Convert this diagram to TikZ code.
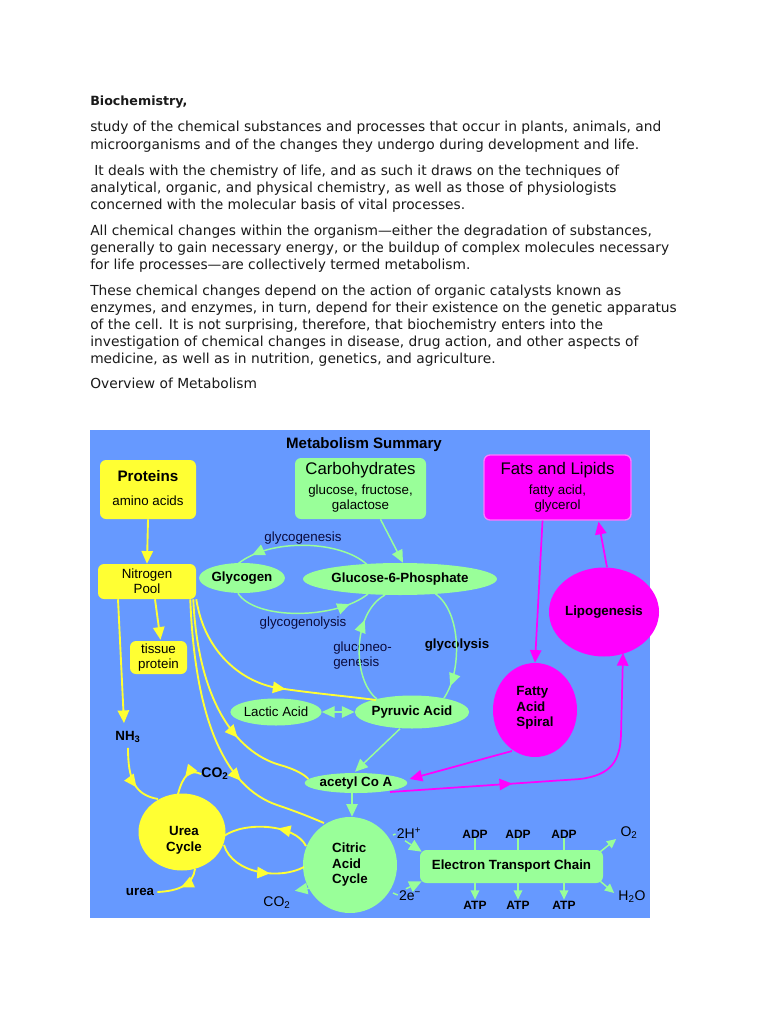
\documentclass[tikz,border=0pt]{standalone}
\usepackage{fontspec}
\setmainfont{DejaVu Sans}
\newfontfamily\arial{Liberation Sans}
\usetikzlibrary{arrows.meta,shapes.geometric,calc,decorations.markings}
\definecolor{bgblue}{HTML}{6699FF}
\definecolor{yel}{HTML}{FFFF33}
\definecolor{lgr}{HTML}{99FF99}
\definecolor{mag}{HTML}{FF00FF}
\definecolor{lmag}{HTML}{FF77FF}
\definecolor{navy}{HTML}{0A0A3C}
\definecolor{bodytxt}{HTML}{1A1A1A}
\tikzset{
  Tri/.tip={Triangle[length=9.5pt,width=8.5pt]},
  STri/.tip={Triangle[length=7pt,width=6.5pt]},
  body/.style={anchor=base west, inner sep=0pt, text=bodytxt, font=\fontsize{10.35}{12}\selectfont},
  lbl/.style={inner sep=0pt, text=navy, font=\arial\fontsize{10}{11.25}\selectfont, align=center},
  blbl/.style={inner sep=0pt, text=black, font=\arial\bfseries\fontsize{10}{11.6}\selectfont, align=center},
  ybox/.style={fill=yel, rounded corners=4.5pt, inner sep=0pt, align=center, font=\arial\fontsize{10}{11.25}\selectfont},
  gell/.style={ellipse, fill=lgr, inner sep=0pt},
  yline/.style={draw=yel, line width=1.4pt},
  gline/.style={draw=lgr, line width=1.1pt},
  mline/.style={draw=mag, line width=1.3pt},
  tipend/.style={-{Tri}},
  midarr/.style={postaction={decorate}, decoration={markings, mark=at position #1 with {\arrow{Tri}}}},
}
\begin{document}
\begin{tikzpicture}[x=0.75pt,y=-0.75pt]
\useasboundingbox (0,0) rectangle (768,1024);
\fill[white] (0,0) rectangle (768,1024);

% ---------- body text ----------
\node[body, font=\bfseries\fontsize{9.5}{12}\selectfont] (t0) at (90,105) {Biochemistry,};
\node[body] (t1) at (90,132) {study of the chemical substances and processes that occur in plants, animals, and};
\node[body] (t2) at (90,149) {microorganisms and of the changes they undergo during development and life.};
\node[body] (t3) at (94,175) {It deals with the chemistry of life, and as such it draws on the techniques of};
\node[body] (t4) at (90,192) {analytical, organic, and physical chemistry, as well as those of physiologists};
\node[body] (t5) at (90,209) {concerned with the molecular basis of vital processes.};
\node[body] (t6) at (90,235) {All chemical changes within the organism—either the degradation of substances,};
\node[body] (t7) at (90,252) {generally to gain necessary energy, or the buildup of complex molecules necessary};
\node[body] (t8) at (90,269) {for life processes—are collectively termed metabolism.};
\node[body] (t9) at (90,295) {These chemical changes depend on the action of organic catalysts known as};
\node[body] (t10) at (90,312) {enzymes, and enzymes, in turn, depend for their existence on the genetic apparatus};
\node[body] (t11) at (90,329) {of the cell. It is not surprising, therefore, that biochemistry enters into the};
\node[body] (t12) at (90,346) {investigation of chemical changes in disease, drug action, and other aspects of};
\node[body] (t13) at (90,363) {medicine, as well as in nutrition, genetics, and agriculture.};
\node[body] (t14) at (90,388) {Overview of Metabolism};

% ---------- diagram background ----------
\fill[bgblue] (90,430) rectangle (650,918);
\node[blbl, font=\arial\bfseries\fontsize{11.3}{13}\selectfont] (title) at (364,445) {Metabolism Summary};

% boxes
\node[ybox, minimum width=96*0.75pt, minimum height=59*0.75pt] (prot) at (148,489.5) {};
\node[blbl, font=\arial\bfseries\fontsize{11.4}{13}\selectfont] (protT) at (148,476) {Proteins};
\node[lbl, text=black] (protS) at (148,501) {amino acids};

\node[ybox, minimum width=98*0.75pt, minimum height=35*0.75pt] (npool) at (147,581.5) {Nitrogen\\Pool};
\node[ybox, minimum width=57*0.75pt, minimum height=33*0.75pt] (tissue) at (158.5,657.5) {tissue\\protein};

\node[ybox, fill=lgr, minimum width=131*0.75pt, minimum height=61*0.75pt] (carb) at (360.5,488.5) {};
\node[lbl, text=black, font=\arial\fontsize{12.6}{14}\selectfont] (carbT) at (360.5,470) {Carbohydrates};
\node[lbl, text=black] (carbS) at (360.5,498.5) {glucose, fructose,\\galactose};

\node[ybox, fill=mag, draw=lmag, line width=1pt, minimum width=147*0.75pt, minimum height=65*0.75pt] (fats) at (557.5,487.5) {};
\node[lbl, text=black, font=\arial\fontsize{12.6}{14}\selectfont] (fatsT) at (557.5,470) {Fats and Lipids};
\node[lbl, text=black] (fatsS) at (557.5,498.5) {fatty acid,\\glycerol};

% ellipses and circles
\node[gell, minimum width=70*0.75pt, minimum height=30*0.75pt, blbl] (glycogen) at (242,578) {Glycogen};
\node[gell, minimum width=148*0.75pt, minimum height=32*0.75pt, blbl] (g6p) at (400,579) {Glucose-6-Phosphate};
\node[gell, minimum width=110*0.75pt, minimum height=33*0.75pt, blbl] (pyr) at (412,712) {Pyruvic Acid};
\node[gell, minimum width=81*0.75pt, minimum height=27*0.75pt, lbl, text=black] (lactic) at (276,712) {Lactic Acid};
\node[gell, minimum width=92*0.75pt, minimum height=20*0.75pt, blbl] (acetyl) at (356,783) {acetyl Co A};
\node[gell, minimum width=94*0.75pt, minimum height=96*0.75pt] (citric) at (350,865) {};
\node[blbl, align=left, font=\arial\bfseries\fontsize{10}{11.6}\selectfont] (citricT) at (350,865) {Citric\\Acid\\Cycle};
\node[ellipse, fill=yel, inner sep=0pt, minimum width=87*0.75pt, minimum height=77*0.75pt] (urea) at (182,832) {};
\node[blbl] (ureaT) at (184,840.5) {Urea\\Cycle};
\node[ellipse, fill=mag, inner sep=0pt, minimum width=84*0.75pt, minimum height=94*0.75pt] (spiral) at (535,710) {};
\node[blbl, align=left] (spiralT) at (535,708) {Fatty\\Acid\\Spiral};
\node[ellipse, fill=mag, inner sep=0pt, minimum width=89*0.75pt, minimum height=89*0.75pt, blbl] (lipo) at (604,612) {Lipogenesis};
\node[ybox, fill=lgr, rounded corners=5pt, minimum width=183*0.75pt, minimum height=33*0.75pt, blbl] (etc) at (511.5,866.5) {Electron Transport Chain};

% labels
\node[lbl] (lgenesis) at (303,538) {glycogenesis};
\node[lbl] (llysis) at (303,623) {glycogenolysis};
\node[lbl, anchor=west, align=left] (lgluco) at (333,655.5) {gluconeo-\\genesis};
\node[blbl] (lglycol) at (457,645) {glycolysis};
\node[blbl] (nh3) at (128,737) {NH\textsubscript{3}};
\node[blbl, font=\arial\bfseries\fontsize{10.5}{12}\selectfont] (co2a) at (215,774) {CO\textsubscript{2}};
\node[blbl] (urealbl) at (140,892) {urea};
\node[blbl, font=\arial\fontsize{10.5}{12}\selectfont] (co2b) at (277,903) {CO\textsubscript{2}};
\node[lbl, text=black, font=\arial\fontsize{10.5}{12}\selectfont] (h2) at (409,833) {2H\textsuperscript{+}};
\node[lbl, text=black, font=\arial\fontsize{10.5}{12}\selectfont] (e2) at (410,896) {2e\textsuperscript{\char"2212}};
\foreach \i/\x in {1/475,2/518,3/564}{
  \node[blbl, font=\arial\bfseries\fontsize{9}{10}\selectfont] (adp\i) at (\x,834) {ADP};
  \node[blbl, font=\arial\bfseries\fontsize{9}{10}\selectfont] (atp\i) at (\x,905) {ATP};
}
\node[lbl, text=black, font=\arial\fontsize{10.5}{12}\selectfont] (o2) at (629,833) {O\textsubscript{2}};
\node[lbl, text=black, font=\arial\fontsize{10.5}{12}\selectfont] (h2o) at (632,897) {H\textsubscript{2}O};

% ---------- yellow connectors ----------
\draw[yline, tipend] (prot.south) -- (npool.north);
\draw[yline, tipend] ($(npool.south)+(8,0)$) -- ($(tissue.north)+(2,-1)$);
\draw[yline, tipend] ($(npool.south)+(-29,0)$) -- ($(nh3.north)+(-4,-8)$);
\draw[yline, midarr=0.6] (npool.south east) .. controls (205,655) and (245,683) .. (278,688)
   .. controls (310,693) and (345,696) .. ($(pyr.center)+(-36,-12)$);
\draw[yline, midarr=0.64] ($(npool.south east)+(-3,0)$) .. controls (198,700) and (235,752) .. (280,765)
   .. controls (295,769) and (305,775) .. ($(acetyl.west)+(4,-4)$);
\draw[yline, midarr=0.67] ($(npool.south east)+(-6,0)$) .. controls (195,720) and (225,787) .. (277,805)
   .. controls (295,811) and (310,817) .. ($(citric.center)+(-26,-42)$);
\draw[yline, midarr=0.62] ($(nh3.south)+(0,5)$) .. controls (128,780) and (135,795) .. ($(urea.center)+(-24,-33)$);
\draw[yline, midarr=0.5] (co2a.west) .. controls (190,769) and (183,775) .. ($(urea.center)+(-4,-38)$);
\draw[yline, midarr=0.5] ($(urea.center)+(13,37)$) .. controls (193,884) and (180,891) .. ($(urealbl.east)+(3,0)$);
\draw[yline, midarr=0.38] ($(citric.center)+(-44,-19)$) .. controls (295,824) and (245,821) .. ($(urea.center)+(42,4)$);
\draw[yline, midarr=0.62] ($(urea.center)+(42,13)$) .. controls (233,874) and (280,880) .. ($(citric.center)+(-46,2)$);

% ---------- green connectors ----------
\draw[gline, tipend] ($(carb.south)+(20,0)$) -- ($(g6p.north)+(3,0)$);
\draw[gline, midarr=0.88] ($(g6p.center)+(-33,-14.5)$) .. controls (340,540) and (270,538) .. ($(glycogen.north)+(-4,1)$);
\draw[gline, midarr=0.85] ($(glycogen.south)+(-4,0)$) .. controls (255,620) and (335,620) .. ($(g6p.center)+(-32,15)$);
\draw[gline, midarr=0.72] ($(pyr.center)+(-35,-13)$) .. controls (352,680) and (352,613) .. ($(g6p.center)+(-15,16)$);
\draw[gline, midarr=0.88] ($(g6p.center)+(35,14.5)$) .. controls (462,612) and (462,672) .. ($(pyr.center)+(32,-14)$);
\draw[gline, {Tri}-{Tri}] (lactic.east) -- (pyr.west);
\draw[gline, tipend] ($(pyr.south)+(-12,0)$) -- ($(acetyl.north)+(-1,-1)$);
\draw[gline, tipend] ($(acetyl.south)+(-4,0)$) -- ($(citric.north)+(2,0)$);
\draw[gline, tipend] ($(citric.center)+(-40,23)$) -- ($(co2b.north east)+(4,-6)$);
\draw[gline] ($(citric.center)+(43,-30)$) -- ($(h2.west)+(-1,1)$);
\draw[gline, tipend] ($(h2.south)+(-4,2)$) -- ($(etc.north west)+(2,2)$);
\draw[gline] ($(citric.center)+(43,28)$) -- ($(e2.west)+(-1,-1)$);
\draw[gline, tipend] ($(e2.north)+(-4,-2)$) -- ($(etc.south west)+(2,-2)$);
\foreach \i in {1,2,3}{
  \draw[gline] (adp\i.south) -- (adp\i.south |- etc.north);
  \draw[gline, -{STri}] (atp\i.north |- etc.south) -- ($(atp\i.north)+(0,-1)$);
}
\draw[gline, -{STri}] ($(etc.north east)+(-3,2)$) -- ($(o2.west)+(-4,6)$);
\draw[gline, -{STri}] ($(etc.south east)+(-3,-2)$) -- ($(h2o.west)+(-4,-4)$);

% ---------- magenta connectors ----------
\draw[mline, tipend] ($(fats.south)+(-15,0)$) -- (spiral.north);
\draw[mline, tipend] ($(lipo.north)+(3,0)$) -- ($(fats.south)+(41,1)$);
\draw[mline, tipend] ($(spiral.center)+(-23,41)$) -- ($(acetyl.east)+(2,-4)$);
\draw[mline, tipend, midarr=0.36] ($(acetyl.center)+(34,9)$) -- (580,779) .. controls (612,775) and (620,760) .. (621,735) -- ($(lipo.center)+(19,41)$);
\end{tikzpicture}
\end{document}
